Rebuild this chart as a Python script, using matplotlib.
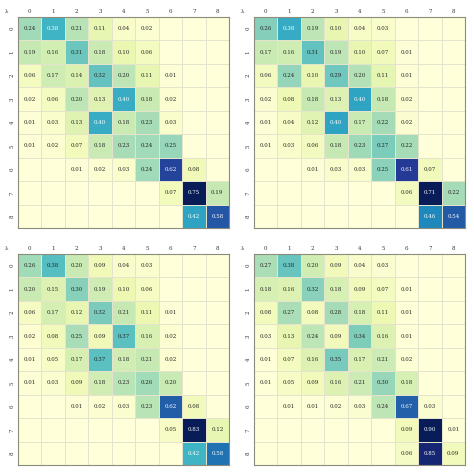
import numpy as np
import matplotlib as mpl
mpl.use('Agg')
import matplotlib.pyplot as plt
import seaborn as sns

plt.rcParams['font.family'] = 'DejaVu Serif'

labels = [str(i) for i in range(9)]

# transition matrices, rows = from state, cols = to state
mat_a = [
    [0.24, 0.38, 0.21, 0.11, 0.04, 0.02, 0, 0, 0],
    [0.19, 0.16, 0.31, 0.18, 0.10, 0.06, 0, 0, 0],
    [0.06, 0.17, 0.14, 0.32, 0.20, 0.11, 0.01, 0, 0],
    [0.02, 0.06, 0.20, 0.13, 0.40, 0.18, 0.02, 0, 0],
    [0.01, 0.03, 0.13, 0.40, 0.18, 0.23, 0.03, 0, 0],
    [0.01, 0.02, 0.07, 0.18, 0.23, 0.24, 0.25, 0, 0],
    [0, 0, 0.01, 0.02, 0.03, 0.24, 0.62, 0.08, 0],
    [0, 0, 0, 0, 0, 0, 0.07, 0.75, 0.19],
    [0, 0, 0, 0, 0, 0, 0, 0.42, 0.58],
]
mat_b = [
    [0.26, 0.38, 0.19, 0.10, 0.04, 0.03, 0, 0, 0],
    [0.17, 0.16, 0.31, 0.19, 0.10, 0.07, 0.01, 0, 0],
    [0.06, 0.24, 0.10, 0.29, 0.20, 0.11, 0.01, 0, 0],
    [0.02, 0.08, 0.18, 0.13, 0.40, 0.18, 0.02, 0, 0],
    [0.01, 0.04, 0.12, 0.40, 0.17, 0.22, 0.02, 0, 0],
    [0.01, 0.03, 0.06, 0.18, 0.23, 0.27, 0.22, 0, 0],
    [0, 0, 0.01, 0.03, 0.03, 0.25, 0.61, 0.07, 0],
    [0, 0, 0, 0, 0, 0, 0.06, 0.71, 0.22],
    [0, 0, 0, 0, 0, 0, 0, 0.46, 0.54],
]
mat_c = [
    [0.26, 0.38, 0.20, 0.09, 0.04, 0.03, 0, 0, 0],
    [0.20, 0.15, 0.30, 0.19, 0.10, 0.06, 0, 0, 0],
    [0.06, 0.17, 0.12, 0.32, 0.21, 0.11, 0.01, 0, 0],
    [0.02, 0.08, 0.25, 0.09, 0.37, 0.16, 0.02, 0, 0],
    [0.01, 0.05, 0.17, 0.37, 0.18, 0.21, 0.02, 0, 0],
    [0.01, 0.03, 0.09, 0.18, 0.23, 0.26, 0.20, 0, 0],
    [0, 0, 0.01, 0.02, 0.03, 0.23, 0.62, 0.08, 0],
    [0, 0, 0, 0, 0, 0, 0.05, 0.83, 0.12],
    [0, 0, 0, 0, 0, 0, 0, 0.42, 0.58],
]
mat_d = [
    [0.27, 0.38, 0.20, 0.09, 0.04, 0.03, 0, 0, 0],
    [0.18, 0.16, 0.32, 0.18, 0.09, 0.07, 0.01, 0, 0],
    [0.08, 0.27, 0.08, 0.28, 0.18, 0.11, 0.01, 0, 0],
    [0.03, 0.13, 0.24, 0.09, 0.34, 0.16, 0.01, 0, 0],
    [0.01, 0.07, 0.16, 0.35, 0.17, 0.21, 0.02, 0, 0],
    [0.01, 0.05, 0.09, 0.16, 0.21, 0.30, 0.18, 0, 0],
    [0, 0.01, 0.01, 0.02, 0.03, 0.24, 0.67, 0.03, 0],
    [0, 0, 0, 0, 0, 0, 0.09, 0.90, 0.01],
    [0, 0, 0, 0, 0, 0, 0.06, 0.85, 0.09],
]

fig = plt.figure(figsize=(4.74, 4.74), dpi=100)
W, H = 474., 474.
# (left, top) of each heatmap in pixels, size 211 px
boxes = [(18, 17), (254, 17), (18, 254), (254, 254)]
size = 211

for mat, (x0, y0) in zip([mat_a, mat_b, mat_c, mat_d], boxes):
    m = np.array(mat)
    ax = fig.add_axes([x0 / W, 1 - (y0 + size) / H, size / W, size / H])
    annot = np.where(m > 0.004, np.char.mod('%.2f', m), '')
    sns.heatmap(m, ax=ax, cmap='YlGnBu', vmin=0, vmax=m.max(), cbar=False,
                annot=annot, fmt='', annot_kws={'fontsize': 4},
                linewidths=0.4, linecolor='#e4e4cc', square=False,
                xticklabels=labels, yticklabels=labels)
    ax.xaxis.tick_top()
    ax.tick_params(axis='both', length=0, labelsize=4, pad=2.5, labelcolor='#333333')
    ax.tick_params(axis='y', labelrotation=90)
    for sp in ax.spines.values():
        sp.set_visible(True)
        sp.set_color('#8c8c7c')
        sp.set_linewidth(0.8)
    ax.text(-0.045, 1.012, 'λ', transform=ax.transAxes, fontsize=4,
            ha='right', va='bottom', color='#333333')

plt.savefig('out.png', dpi=100)
